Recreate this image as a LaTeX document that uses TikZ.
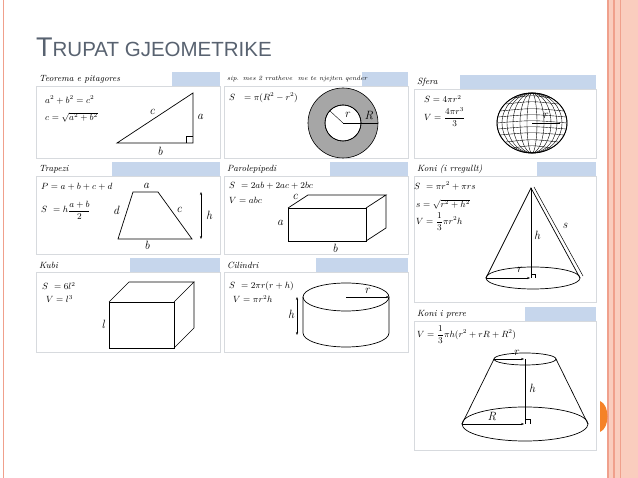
\documentclass[tikz,border=0pt]{standalone}
\usepackage{amsmath}
\usepackage{fontspec}
\newfontfamily\titlefont{Liberation Sans}
\usetikzlibrary{arrows.meta}
\definecolor{hdr}{RGB}{198,214,236}
\definecolor{pbord}{RGB}{215,218,222}
\definecolor{ttl}{RGB}{88,98,112}
\definecolor{salm}{RGB}{240,160,140}
\definecolor{salml}{RGB}{250,205,190}
\definecolor{orng}{RGB}{245,130,40}
\tikzset{
 f/.style={font=\fontsize{9}{10}\selectfont, anchor=west, inner sep=0pt},
 lab/.style={font=\fontsize{12}{13}\selectfont\itshape, inner sep=0pt},
 ht/.style={font=\fontsize{9}{10}\selectfont\itshape, anchor=west, inner sep=0pt},
 ln/.style={line width=0.7pt},
 ar/.style={line width=0.5pt,-{Stealth[length=3pt]}},
}
\newcommand{\panel}[6]{% x1 y1 x2 y2 bluestart title
 \fill[hdr] (#5,#2) rectangle (#3,#2+14);
 \draw[pbord,line width=0.8pt] (#1,#2+14) rectangle (#3,#4);
 \node[ht] at (#1+3,#2+7) {#6};
}
\begin{document}
\begin{tikzpicture}[x=1pt,y=-1pt]
\useasboundingbox (0,0) rectangle (638,478);
\fill[white] (0,0) rectangle (638,478);
% slide decoration
\draw[salm,line width=1pt] (3,0) -- (3,478);
\fill[salml] (607,0) rectangle (638,478);
\draw[salm,line width=1.2pt] (608,0) -- (608,478);
\draw[salm,line width=1.2pt] (614,0) -- (614,478);
\draw[salm,line width=0.8pt] (620,0) -- (620,478);
\fill[orng] (600,401) .. controls (610,405) and (610,428) .. (600,432) -- cycle;
% title
\node[anchor=base west,inner sep=0pt,text=ttl] (title) at (36,57) {\titlefont\fontsize{27}{28}\selectfont T\fontsize{20.5}{22}\selectfont RUPAT GJEOMETRIKE};
% panels
\panel{36}{72}{220}{158}{172}{Teorema e pitagores}
\panel{224}{72}{408}{158}{362}{{\fontsize{6.5}{7}\selectfont sip. mes 2 rratheve \ me te njejten qender}}
\panel{414}{75}{596}{158}{460}{Sfera}
\panel{36}{162}{220}{254}{112}{Trapezi}
\panel{224}{162}{408}{254}{330}{Parolepipedi}
\panel{414}{162}{596}{302}{537}{Koni (i rregullt)}
\panel{36}{258}{220}{352}{130}{Kubi}
\panel{224}{258}{408}{352}{316}{Cilindri}
\panel{414}{307}{596}{450}{525}{Koni i prere}
% Pythagoras
\node[f] (p1) at (45,100) {$a^2+b^2=c^2$};
\node[f] (p2) at (45,117) {$c=\sqrt{a^2+b^2}$};
\draw[ln] (117,143) -- (193,143) -- (193,93) -- cycle;
\draw[line width=0.4pt] (186,143) -- (186,136) -- (193,136);
\node[lab] (pc) at (152,112) {c};
\node[lab] (pa) at (200,117) {a};
\node[lab] (pb) at (160,151) {b};
% annulus
\node[f] (an) at (229,98) {$S\ \ =\pi(R^2-r^2)$};
\fill[gray!70,even odd rule,draw=black,line width=0.6pt] (343,123) circle (35) (343,123) circle (18);
\draw[line width=0.6pt] (343,123) circle (18);
\draw[line width=0.4pt] (343,123) -- (330,111);
\draw[line width=0.4pt] (343,123) -- (378,123);
\node[lab] (ar) at (347,115) {r};
\node[lab] (aR) at (369,116) {R};
% sphere
\node[f] (s1) at (424,99) {$S=4\pi r^2$};
\node[f] (s2) at (424,117) {$V=\dfrac{4\pi r^3}{3}$};
\begin{scope}[line width=0.4pt]
\foreach \k in {5,12,19,25,30,35} \draw (532,123) ellipse ({\k} and 30);
\foreach \y/\w in {-25/19,-19/26,-12/32,-6/34,0/35,6/34,12/32,19/26,25/19} \draw (532-\w,123+\y) .. controls (532,123+\y-3) .. (532+\w,123+\y);
\draw[line width=0.9pt] (532,123) ellipse (35 and 30);
\end{scope}
\draw[line width=0.4pt] (532,123) -- (560,123);
\node[lab] (sr) at (545,116) {r};
% trapezoid
\node[f] (t1) at (41,187) {$P=a+b+c+d$};
\node[f] (t2) at (41,210) {$S\ =h\dfrac{a+b}{2}$};
\draw[ln] (133,192) -- (158,192) -- (192,239) -- (118,239) -- cycle;
\draw[line width=0.5pt,{Stealth[length=3pt]}-{Stealth[length=3pt]}] (201,192) -- (201,239);
\node[lab] (ta) at (146,186) {a};
\node[lab] (td) at (116,210) {d};
\node[lab] (tc) at (179,210) {c};
\node[lab] (th) at (209,215) {h};
\node[lab] (tb) at (147,245) {b};
% parallelepiped
\node[f] (q1) at (229,186) {$S\ =2ab+2ac+2bc$};
\node[f] (q2) at (229,200) {$V=abc$};
\draw[ln] (288,208) rectangle (366,241);
\draw[ln] (288,208) -- (308,195) -- (386,195) -- (366,208);
\draw[ln] (386,195) -- (386,228) -- (366,241);
\node[lab] (qc) at (295,197) {c};
\node[lab] (qa) at (280,223) {a};
\node[lab] (qb) at (335,248) {b};
% cube
\node[f] (k1) at (42,286) {$S\ =6l^2$};
\node[f] (k2) at (46,299) {$V=l^3$};
\draw[ln] (109,302) rectangle (174,348);
\draw[ln] (109,302) -- (129,282) -- (194,282) -- (174,302);
\draw[ln] (194,282) -- (194,328) -- (174,348);
\node[lab] (kl) at (103,324) {l};
% cylinder
\node[f] (c1) at (229,286) {$S\ =2\pi r(r+h)$};
\node[f] (c2) at (233,299) {$V=\pi r^2h$};
\draw[ln] (346,297) ellipse (43 and 14);
\draw[ln] (303,297) -- (303,333) arc (180:0:43 and 14) -- (389,297);
\draw[ar] (346,297) -- (389,297);
\draw[line width=0.5pt,{Stealth[length=3pt]}-{Stealth[length=3pt]}] (297,297) -- (297,335);
\node[lab] (cr) at (367,291) {r};
\node[lab] (ch) at (291,314) {h};
% cone
\node[f] (n1) at (414,186) {$S\ =\pi r^2+\pi rs$};
\node[f] (n2) at (416,204) {$s=\sqrt{r^2+h^2}$};
\node[f] (n3) at (416,222) {$V=\dfrac13\pi r^2h$};
\draw[ln] (533,278) ellipse (47 and 11);
\draw[ln] (486,278) -- (531,188) -- (580,278);
\draw[line width=0.5pt] (534,187) -- (583,276);
\draw[line width=0.4pt] (531,188) -- (531,278);
\draw[line width=0.4pt] (531,274) -- (535,274) -- (535,278);
\draw[ar] (486,278) -- (530,278);
\node[lab] (nh) at (537,235) {h};
\node[lab] (ns) at (565,226) {s};
\node[lab] (nr) at (519,270) {r};
% frustum
\node[f] (fr) at (417,335) {$V=\dfrac13\pi h(r^2+rR+R^2)$};
\draw[ln] (525,359) ellipse (31 and 6);
\draw[ln] (525,424) ellipse (63 and 17);
\draw[ln] (494,359) -- (462,424);
\draw[ln] (556,359) -- (588,424);
\draw[line width=0.4pt] (525,359) -- (525,424);
\draw[line width=0.4pt] (525,419) -- (530,419) -- (530,424);
\draw[ar] (494,359) -- (524,359);
\draw[ar] (462,424) -- (524,424);
\node[lab] (fr2) at (516,353) {r};
\node[lab] (fh) at (532,388) {h};
\node[lab] (fR) at (492,417) {R};
\end{tikzpicture}
\end{document}
